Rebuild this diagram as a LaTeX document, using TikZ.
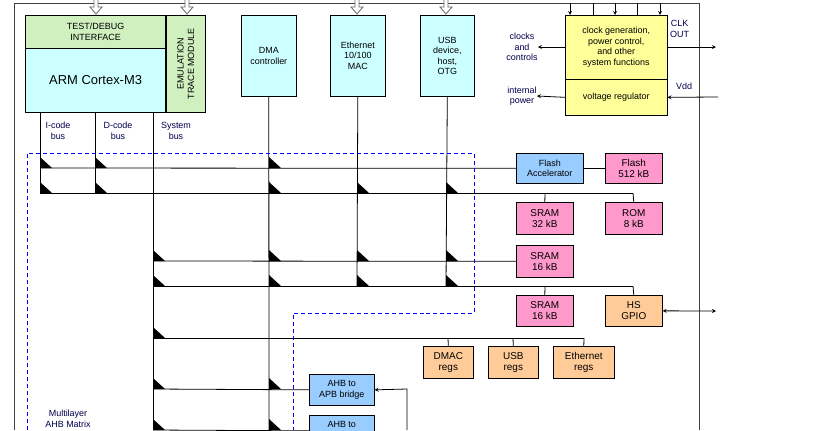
\documentclass[tikz,border=0pt]{standalone}
\usepackage{fontspec}
\setmainfont{Liberation Sans}
\usetikzlibrary{arrows,positioning,calc}
\definecolor{tgreen}{RGB}{208,240,192}
\definecolor{tcyan}{RGB}{204,255,255}
\definecolor{tblue}{RGB}{153,204,255}
\definecolor{tpink}{RGB}{255,153,204}
\definecolor{torange}{RGB}{255,204,153}
\definecolor{tyellow}{RGB}{255,255,153}
\begin{document}
\begin{tikzpicture}[x=1bp, y=-1bp, >=stealth, font=\fontsize{9}{10.5}\selectfont,
    box/.style={rectangle, draw, thick, align=center, inner sep=1pt, anchor=north west},
    bus/.style={thick},
    arrow/.style={->, thick},
    lbl/.style={align=center, inner sep=0pt, text=black!70!blue},
    hollow/.style={draw=black!60, fill=white, thick}]
    \useasboundingbox (0,0) rectangle (819,430);

    % chip border
    \draw[thick, black!75] (14,430) -- (14,3) -- (699,3) -- (699,430);

    % hollow inputs at top
    \foreach \x in {96,187,357,446}
      \draw[hollow] (\x-2,0) -- (\x-2,7) -- (\x-6,7) -- (\x,14) -- (\x+6,7) -- (\x+2,7) -- (\x+2,0);

    % CPU
    \node[box, fill=tgreen, minimum width=141, minimum height=33] (tdi) at (25,15) {TEST/DEBUG\\INTERFACE};
    \node[box, fill=tcyan, minimum width=141, minimum height=64, font=\fontsize{13}{14}\selectfont] (cpu) at (25,48) {ARM Cortex-M3};
    \node[box, fill=tgreen, minimum width=39, minimum height=97] (etm) at (166,15) {};
    \node[rotate=90, align=center, inner sep=0pt] at (etm.center) {EMULATION\\TRACE MODULE};

    % masters
    \node[box, fill=tcyan, minimum width=55, minimum height=81] (dma) at (241,15) {DMA\\controller};
    \node[box, fill=tcyan, minimum width=55, minimum height=81] (eth) at (330,15) {Ethernet\\10/100\\MAC};
    \node[box, fill=tcyan, minimum width=54, minimum height=81] (usb) at (420,15) {USB\\device,\\host,\\OTG};

    % system functions
    \node[box, fill=tyellow, minimum width=102, minimum height=64] (clk) at (565,15) {clock generation,\\power control,\\and other\\system functions};
    \node[box, fill=tyellow, minimum width=102, minimum height=36] (vreg) at (565,79) {voltage regulator};
    \foreach \x in {570,615,660} \draw[arrow] (\x,3) -- (\x,15);
    \foreach \x in {593,637} \draw[thick] (\x,3) -- (\x,15);
    \node[lbl] (clkctl) at (522,47) {clocks\\and\\controls};
    \node[lbl] (intpwr) at (522,96) {internal\\power};
    \node[lbl, anchor=west] (clkout) at (670,29) {CLK\\OUT};
    \node[lbl, anchor=west] (vdd) at (676,86) {Vdd};
    \coordinate (clkoutend) at (716,47);
    \coordinate (vddend) at (718,97);
    \draw[arrow] (clk.west |- 0,47) -- (clkctl.east);
    \draw[arrow] (vreg.west) -- (intpwr.east);
    \draw[arrow] (clk.east |- 0,47) -- (clkoutend);
    \draw[arrow] (vddend) -- (vreg.east);

    % slaves
    \node[box, fill=tblue, minimum width=67, minimum height=30] (facc) at (516,153) {Flash\\Accelerator};
    \node[box, fill=tpink, minimum width=57, minimum height=30, font=\fontsize{10}{11}\selectfont] (flash) at (605,153) {Flash\\512 kB};
    \node[box, fill=tpink, minimum width=57, minimum height=32, font=\fontsize{10}{11}\selectfont] (sram1) at (516,202) {SRAM\\32 kB};
    \node[box, fill=tpink, minimum width=57, minimum height=32, font=\fontsize{10}{11}\selectfont] (rom) at (605,202) {ROM\\8 kB};
    \node[box, fill=tpink, minimum width=57, minimum height=32, font=\fontsize{10}{11}\selectfont] (sram2) at (516,245) {SRAM\\16 kB};
    \node[box, fill=tpink, minimum width=57, minimum height=31, font=\fontsize{10}{11}\selectfont] (sram3) at (516,295) {SRAM\\16 kB};
    \node[box, fill=torange, minimum width=57, minimum height=31, font=\fontsize{10}{11}\selectfont] (gpio) at (605,295) {HS\\GPIO};
    \node[box, fill=torange, minimum width=50, minimum height=32, font=\fontsize{10}{11}\selectfont] (dmacr) at (423,346) {DMAC\\regs};
    \node[box, fill=torange, minimum width=50, minimum height=32, font=\fontsize{10}{11}\selectfont] (usbr) at (488,346) {USB\\regs};
    \node[box, fill=torange, minimum width=61, minimum height=32, font=\fontsize{10}{11}\selectfont] (ethr) at (553,346) {Ethernet\\regs};
    \node[box, fill=tblue, minimum width=65, minimum height=31] (apb1) at (309,374) {AHB to\\APB bridge};
    \node[box, fill=tblue, minimum width=65, minimum height=31] (apb2) at (309,415) {AHB to\\APB bridge};
    \coordinate (gpioend) at (716,311);
    \draw[<->, thick] (gpio.east) -- (gpioend);

    % bus labels
    \node[lbl] at (58,131) {I-code\\bus};
    \node[lbl] at (118,131) {D-code\\bus};
    \node[lbl] at (176,131) {System\\bus};
    \node[lbl] (mlabel) at (68,419) {Multilayer\\AHB Matrix};

    % vertical buses
    \draw[bus] (cpu.south -| 40,0) -- (40,193);
    \draw[bus] (cpu.south -| 95,0) -- (95,193);
    \draw[bus] (etm.south -| 153,0) -- (153,430);
    \draw[bus] (dma.south) -- (269,430);
    \draw[bus] (eth.south) -- (357,286);
    \draw[bus] (usb.south) -- (446,286);

    % horizontal buses
    \draw[bus] (40,168) -- (facc.west);
    \draw[bus] (facc.east) -- (flash.west);
    \draw[bus] (40,193) -- (633,193);
    \draw[bus] (sram1.north) -- (545,193) (rom.north) -- (633,193);
    \draw[bus] (153,261) -- (sram2.west);
    \draw[bus] (153,286) -- (633,286);
    \draw[bus] (sram3.north) -- (545,286) (gpio.north) -- (633,286);
    \draw[bus] (153,338) -- (584,338);
    \draw[bus] (dmacr.north) -- (448,338) (usbr.north) -- (513,338) (ethr.north) -- (584,338);
    \draw[bus] (153,389) -- (apb1.west);
    \draw[bus] (153,430) -- (apb2.west);
    \coordinate (apbin) at (407,430);
    \draw[arrow] (apbin) -- (407,389) -- (apb1.east);

    % switch markers
    \foreach \p in {(40,168),(95,168),(269,168),
                    (40,193),(95,193),(269,193),(357,193),(446,193),
                    (153,261),(269,261),(357,261),(446,261),
                    (153,286),(269,286),(357,286),(446,286),
                    (153,338),(153,389),(269,389),(153,430),(269,430)}
      \fill \p ++(0,-11) -- \p -- ++(12,0) -- cycle;

    % bus matrix outline
    \draw[draw=blue, thick, dash pattern=on 4pt off 3pt] (27,430) -- (27,153) -- (474,153) -- (474,313) -- (293,313) -- (293,430);
\end{tikzpicture}
\end{document}
